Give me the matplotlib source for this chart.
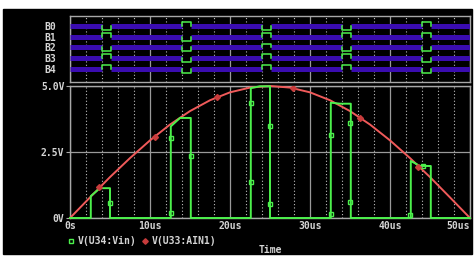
import matplotlib
matplotlib.use('Agg')
import matplotlib.pyplot as plt
from matplotlib.patches import Rectangle
from matplotlib.lines import Line2D
from matplotlib.ticker import MultipleLocator

# ---------------- data ----------------
t_ain = [0, 2.5, 5, 7.5, 10, 12.5, 15, 17.5, 20, 22.5, 25, 27.5, 30, 32.5, 35, 37.5, 40, 42.5, 45, 47.5, 50]
v_ain = [0, 0.78, 1.55, 2.27, 2.94, 3.54, 4.05, 4.46, 4.76, 4.94, 5.0, 4.94, 4.76, 4.46, 4.05, 3.54, 2.94, 2.27, 1.55, 0.78, 0]

t_vin = [0, 2.6, 2.6, 3.75, 5.0, 5.0, 12.6, 12.6, 13.75, 15.1, 15.1, 22.6, 22.6, 23.75, 25.0, 25.0,
         32.6, 32.6, 33.75, 35.1, 35.1, 42.6, 42.6, 43.75, 45.1, 45.1, 50]
v_vin = [0, 0, 0.83, 1.13, 1.13, 0, 0, 3.47, 3.79, 3.79, 0, 0, 4.92, 4.99, 4.99, 0,
         0, 4.37, 4.33, 4.33, 0, 0, 2.16, 1.97, 1.97, 0, 0]

vin_mark_t = [5.0, 12.6, 12.6, 15.1, 22.6, 22.6, 25.0, 25.0, 32.6, 32.6, 35.0, 35.0, 42.5, 44.1]
vin_mark_v = [0.56, 0.19, 3.03, 2.33, 1.35, 4.34, 3.5, 0.52, 0.17, 3.16, 3.6, 0.61, 0.1, 1.97]

ain_mark_t = [3.66, 10.6, 18.4, 27.9, 36.3, 43.5]
ain_mark_v = [1.16, 3.07, 4.58, 4.94, 3.77, 1.92]

bit_names = ['B0', 'B1', 'B2', 'B3', 'B4']
sample_start = [4.0, 14.0, 24.0, 34.0, 44.0]
sample_end = [5.1, 15.1, 25.1, 35.1, 45.1]
# bits per sample, order B0..B4 (1 = high)
bits = [[0, 1, 0, 1, 1],
        [1, 0, 0, 0, 0],
        [0, 1, 1, 1, 1],
        [0, 1, 0, 1, 1],
        [1, 1, 0, 0, 0]]

x_ticks = [0, 10, 20, 30, 40, 50]
x_tick_labels = ['0s', '10us', '20us', '30us', '40us', '50us']
y_ticks = [0, 2.5, 5.0]
y_tick_labels = ['0V', '2.5V', '5.0V']
legend_labels = ['V(U34:Vin)', 'V(U33:AIN1)']
x_title = 'Time'

# ---------------- style ----------------
W, H = 474, 257
GREEN = '#4cf04c'
RED = '#f05a5a'
PURPLE = '#3a0cb0'
TXT = '#d4d4d4'
GRID = '#9a9a9a'
DOT = '#bdbdbd'
FONT = dict(family='DejaVu Sans Mono', size=7, weight='bold', color=TXT)

fig = plt.figure(figsize=(W / 100, H / 100), dpi=100, facecolor='white')
fig.patches.append(Rectangle((3 / W, 1 - 254 / H), (472 - 3) / W, (254 - 9) / H,
                             transform=fig.transFigure, color='black', zorder=-10))


def rect(x0, y0, x1, y1):
    return [x0 / W, 1 - y1 / H, (x1 - x0) / W, (y1 - y0) / H]


def style_axes(ax):
    ax.set_facecolor('black')
    for s in ax.spines.values():
        s.set_color('#a8a8a8')
        s.set_linewidth(1.0)
    ax.set_xlim(0, 50)
    ax.xaxis.set_major_locator(MultipleLocator(10))
    ax.xaxis.set_minor_locator(MultipleLocator(2))
    ax.grid(which='major', axis='x', color=GRID, lw=0.9, ls='-')
    ax.grid(which='minor', axis='x', color=DOT, lw=0.8, ls=(0, (1, 2)))
    ax.tick_params(which='minor', length=0)
    ax.set_axisbelow(True)


# ---------------- digital panel ----------------
axd = fig.add_axes(rect(70, 16, 470, 82))
style_axes(axd)
axd.set_ylim(5.21, -0.93)
axd.set_yticks(range(len(bit_names)))
axd.set_yticklabels(bit_names, **FONT)
axd.tick_params(axis='y', length=0, pad=10)
axd.tick_params(axis='x', length=0, labelbottom=False)

d = 0.37
for i, name in enumerate(bit_names):
    bounds = [0] + [v for pair in zip(sample_start, sample_end) for v in pair] + [50]
    for k in range(0, len(bounds), 2):
        axd.plot([bounds[k], bounds[k + 1]], [i, i], color=PURPLE, lw=3.6,
                 solid_capstyle='butt', zorder=3)
    for k, (s, e) in enumerate(zip(sample_start, sample_end)):
        lvl = i - d if bits[k][i] else i + d
        axd.plot([s, s, e, e], [i, lvl, lvl, i], color=GREEN, lw=1.1, zorder=4)

# ---------------- analog panel ----------------
axa = fig.add_axes(rect(70, 86, 470, 218))
style_axes(axa)
axa.set_ylim(0, 5)
axa.set_yticks(y_ticks)
axa.set_yticklabels(y_tick_labels, **FONT)
axa.set_xticks(x_ticks)
xl = axa.set_xticklabels(x_tick_labels, **FONT)
xl[-1].set_ha('right')
xl[0].set_ha('center')
axa.tick_params(axis='y', which='major', length=3, color='#a8a8a8', pad=1)
axa.tick_params(axis='x', which='major', length=0, pad=2)
axa.grid(which='major', axis='y', color=GRID, lw=0.9, ls='-')

axa.plot(t_ain, v_ain, color=RED, lw=1.4, zorder=3, clip_on=False)
axa.plot(t_vin, v_vin, color=GREEN, lw=1.4, zorder=4, clip_on=False)
axa.plot(vin_mark_t, vin_mark_v, ls='none', marker='s', ms=3.2, mfc='none',
         mec=GREEN, mew=1.0, zorder=5)
axa.plot(ain_mark_t, ain_mark_v, ls='none', marker='D', ms=3.0, mfc='#c83c3c',
         mec='#c83c3c', zorder=5)

# ---------------- legend & title ----------------
fig.add_artist(Line2D([70.7 / W], [1 - 240.5 / H], ls='none', marker='s', ms=3.2,
                      mfc='none', mec=GREEN, mew=1.0, transform=fig.transFigure))
fig.text(78 / W, 1 - 240.5 / H, legend_labels[0], ha='left', va='center', **FONT)
fig.add_artist(Line2D([145 / W], [1 - 240.5 / H], ls='none', marker='D', ms=2.8,
                      mfc='#c83c3c', mec='#c83c3c', transform=fig.transFigure))
fig.text(152 / W, 1 - 240.5 / H, legend_labels[1], ha='left', va='center', **FONT)
fig.text(270 / W, 1 - 250 / H, x_title, ha='center', va='center', **FONT)

fig.savefig('out.png', dpi=100, facecolor='white')
